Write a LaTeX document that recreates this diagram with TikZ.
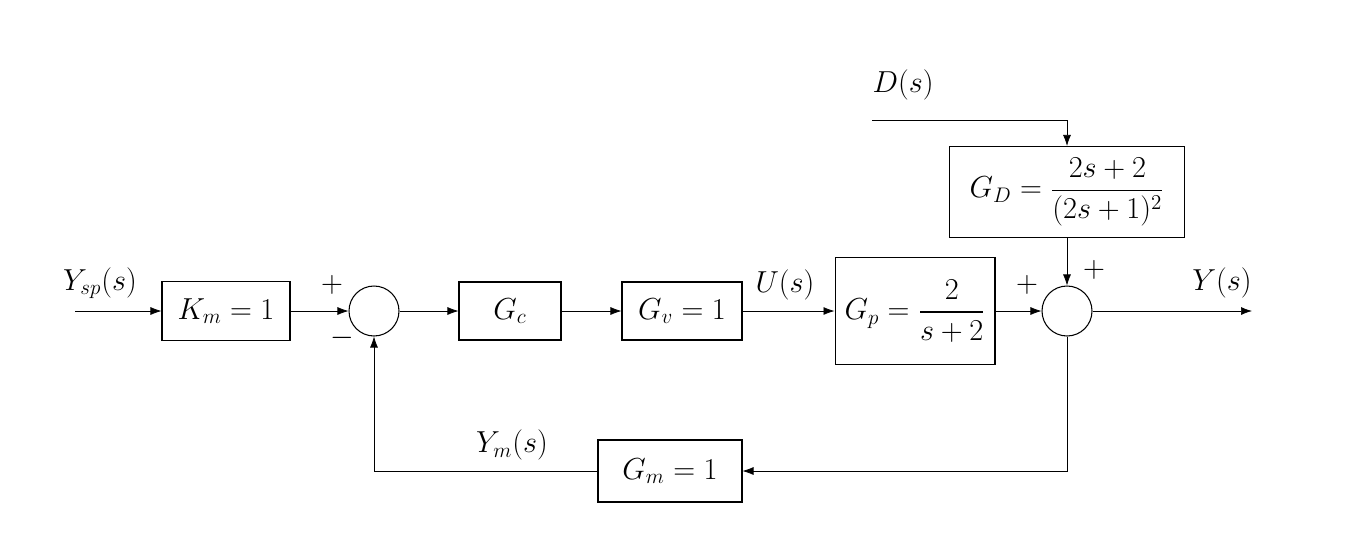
\documentclass[tikz,border=0pt]{standalone}
\usepackage{amsmath}
\usetikzlibrary{arrows.meta}
\begin{document}
\begin{tikzpicture}[
  x=0.02cm, y=-0.02cm,
  block/.style={draw, semithick, rectangle, inner sep=0pt, font=\LARGE},
  sum/.style={draw, semithick, circle, minimum size=1cm, inner sep=0pt},
  lbl/.style={font=\LARGE},
  sig/.style={-{Latex[length=2.2mm,width=1.6mm]}, thin}
]
\useasboundingbox (0,0) rectangle (1368,552);

% --- Forward path ---
\coordinate (in) at (75,311);
\node[block, minimum width=2.56cm, minimum height=1.18cm] (Km) at (226,311) {$K_m = 1$};
\node[sum] (S1) at (374,311) {};
\node[block, minimum width=2.04cm, minimum height=1.16cm] (Gc) at (510,311) {$G_c$};
\node[block, minimum width=2.4cm, minimum height=1.16cm] (Gv) at (682,311) {$G_v = 1$};
\node[block, minimum width=3.2cm, minimum height=2.14cm] (Gp) at (915,311) {$G_p = \dfrac{2}{s+2}$};
\node[sum] (S2) at (1067,311) {};
\coordinate (out) at (1252,311);

% --- Disturbance ---
\coordinate (din) at (872,120);
\coordinate (dturn) at (1067,120);
\node[block, minimum width=4.7cm, minimum height=1.82cm] (GD) at (1067,192) {$G_D = \dfrac{2s+2}{(2s+1)^2}$};

% --- Feedback ---
\node[block, minimum width=2.88cm, minimum height=1.24cm] (Gm) at (670,471) {$G_m = 1$};
\coordinate (fbR) at (1067,471);
\coordinate (fbL) at (374,471);

% --- Labels ---
\node[lbl] (Ysp) at (100,283) {$Y_{sp}(s)$};
\node[lbl] (p1) at (332,285) {$+$};
\node[lbl] (m1) at (342,338) {$-$};
\node[lbl] (U) at (785,285) {$U(s)$};
\node[lbl] (p2) at (1027,285) {$+$};
\node[lbl] (p3) at (1094,270) {$+$};
\node[lbl] (Y) at (1222,283) {$Y(s)$};
\node[lbl] (D) at (903,85) {$D(s)$};
\node[lbl] (Ym) at (512,445) {$Y_m(s)$};

% --- Connectors ---
\draw[sig] (in) -- (Km);
\draw[sig] (Km) -- (S1);
\draw[sig] (S1) -- (Gc);
\draw[sig] (Gc) -- (Gv);
\draw[sig] (Gv) -- (Gp);
\draw[sig] (Gp) -- (S2);
\draw[sig] (S2) -- (out);
\draw[sig] (din) -- (dturn) -- (GD);
\draw[sig] (GD) -- (S2);
\draw[sig] (S2) -- (fbR) -- (Gm);
\draw[sig] (Gm) -- (fbL) -- (S1);

\end{tikzpicture}
\end{document}
